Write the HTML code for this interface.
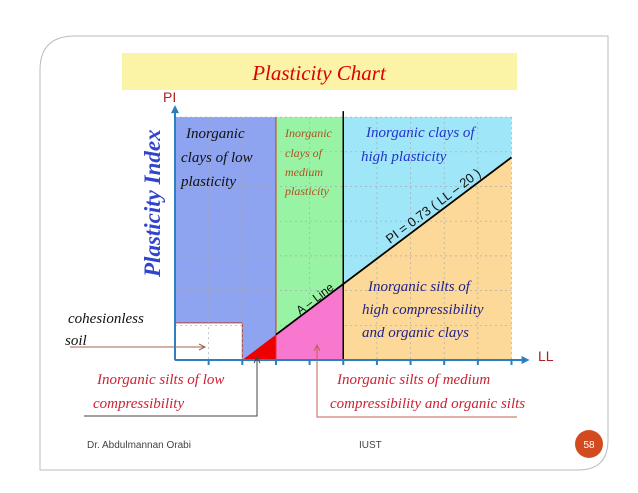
<!DOCTYPE html>
<html><head><meta charset="utf-8"><style>
body{margin:0;width:638px;height:493px;background:#fff;overflow:hidden}
svg{display:block}
.it{font-family:"Liberation Serif",serif;font-style:italic}
.sa{font-family:"Liberation Sans",sans-serif}
</style></head><body>
<svg width="638" height="493">
<path d="M75,36 H608 V440 Q608,470 578,470 H40 V70 Q40,36 75,36 Z" fill="none" stroke="#bbb" stroke-width="1"/>
<rect x="122" y="53" width="395" height="37" fill="#fbf3a6"/>
<text x="319" y="80" text-anchor="middle" class="it" font-size="21" fill="#d00">Plasticity Chart</text>
<g id="plot"></g>
<text x="163" y="102" class="sa" font-size="14" fill="#b02020">PI</text>
<text x="538" y="361" class="sa" font-size="14" fill="#b02020">LL</text>
<text transform="translate(160,277) rotate(-90)" class="it" font-size="23" fill="#3344cc" font-weight="bold">Plasticity Index</text>
<g class="it" font-size="15" fill="#111">
<text x="186" y="138">Inorganic</text><text x="181" y="162">clays of  low</text><text x="181" y="186">plasticity</text></g>
<g class="it" font-size="12" fill="#b05020">
<text x="285" y="137">Inorganic</text><text x="285" y="157">clays of</text><text x="285" y="176">medium</text><text x="285" y="195">plasticity</text></g>
<g class="it" font-size="15" fill="#2233cc">
<text x="366" y="137">Inorganic clays of</text><text x="361" y="161">high plasticity</text></g>
<g class="it" font-size="15" fill="#222288">
<text x="368" y="291">Inorganic silts of</text><text x="362" y="314">high compressibility</text><text x="362" y="337">and organic clays</text></g>
<g id="over"></g>
<text transform="translate(390,244) rotate(-37)" class="sa" font-size="13" fill="#111">PI = 0.73 ( LL – 20 )</text>
<text transform="translate(300,315) rotate(-37)" class="sa" font-size="12" fill="#111">A – Line</text>
<g class="it" font-size="15" fill="#111"><text x="68" y="323">cohesionless</text><text x="65" y="345">soil</text></g>
<path d="M70,347 H205" stroke="#a06050" fill="none"/><path d="M199,344 L205,347 L199,350" stroke="#a06050" fill="none"/>
<g class="it" font-size="15" fill="#cc2233"><text x="97" y="384">Inorganic silts of  low</text><text x="93" y="408">compressibility</text></g>
<path d="M84,416 H257 V358" stroke="#444" fill="none"/>
<path d="M254,363 L257,357 L260,363" stroke="#444" fill="none"/>
<g class="it" font-size="15" fill="#cc2233"><text x="337" y="384">Inorganic silts of  medium</text><text x="330" y="408">compressibility and organic silts</text></g>
<path d="M317,346 V417 H517" stroke="#c06050" fill="none"/>
<path d="M314,351 L317,345 L320,351" stroke="#c06050" fill="none"/>
<text x="87" y="448" class="sa" font-size="10" fill="#444">Dr. Abdulmannan Orabi</text>
<text x="359" y="448" class="sa" font-size="10" fill="#444">IUST</text>
<circle cx="589" cy="444" r="14" fill="#d24b1f"/>
<text x="589" y="448" text-anchor="middle" class="sa" font-size="10" fill="#fff">58</text>
</svg>
<script>
const llTicks=[0,10,20,30,40,50,60,70,80,90,100];
const piTicks=[0,10,20,30,40,50,60,70];
const zoneBounds=[30,50];
const aLineSlope=[0.73];
const aLineOffset=[20];
const piMax=[70];
const cohesionless=[20,10.7];
const X=v=>175+v*3.365, Y=v=>360-v*3.47;
const g=document.getElementById('plot'),NS='http://www.w3.org/2000/svg';
function el(t,a){const e=document.createElementNS(NS,t);for(const k in a)e.setAttribute(k,a[k]);g.appendChild(e);return e;}
const A=ll=>aLineSlope[0]*(ll-aLineOffset[0]);
const yTop=Y(piMax[0]);
let e;
e=el('rect',{x:X(0),y:yTop,width:X(zoneBounds[0])-X(0),height:Y(0)-yTop,fill:'#8ea4f0'});

e=el('rect',{x:X(zoneBounds[0]),y:yTop,width:X(zoneBounds[1])-X(zoneBounds[0]),height:Y(0)-yTop,fill:'#98f4a4'});

e=el('rect',{x:X(zoneBounds[1]),y:yTop,width:X(100)-X(zoneBounds[1]),height:Y(0)-yTop,fill:'#9ee6f8'});

e=el('polygon',{points:`${X(zoneBounds[1])},${Y(0)} ${X(zoneBounds[1])},${Y(A(zoneBounds[1]))} ${X(100)},${Y(A(100))} ${X(100)},${Y(0)}`,fill:'#fcd998'});

e=el('polygon',{points:`${X(zoneBounds[0])},${Y(0)} ${X(zoneBounds[0])},${Y(A(zoneBounds[0]))} ${X(zoneBounds[1])},${Y(A(zoneBounds[1]))} ${X(zoneBounds[1])},${Y(0)}`,fill:'#f878d0'});

e=el('polygon',{points:`${X(aLineOffset[0])},${Y(0)} ${X(zoneBounds[0])},${Y(A(zoneBounds[0]))} ${X(zoneBounds[0])},${Y(0)}`,fill:'#ee0000'});

e=el('rect',{x:X(0),y:Y(cohesionless[1]),width:X(cohesionless[0])-X(0),height:Y(0)-Y(cohesionless[1]),fill:'#fff',stroke:'#b04040','stroke-width':1});

piTicks.forEach(p=>{if(p===0)return;const l=el('line',{x1:X(0),x2:X(100),y1:Y(p),y2:Y(p),stroke:'#aaa','stroke-dasharray':'2,3','stroke-width':0.7});
});
llTicks.forEach(v=>{if(v===0)return;const l=el('line',{x1:X(v),x2:X(v),y1:yTop,y2:Y(0),stroke:'#aaa','stroke-dasharray':'2,3','stroke-width':0.7});
});
e=el('line',{x1:X(zoneBounds[0]),x2:X(zoneBounds[0]),y1:yTop,y2:Y(0),stroke:'#d03030','stroke-width':1});

e=el('line',{x1:X(zoneBounds[1]),x2:X(zoneBounds[1]),y1:yTop-6,y2:Y(0),stroke:'#000','stroke-width':1.5});

e=el('line',{x1:X(zoneBounds[0]),y1:Y(A(zoneBounds[0])),x2:X(100),y2:Y(A(100)),stroke:'#000','stroke-width':1.8});

e=el('line',{x1:X(0),y1:Y(0),x2:X(103),y2:Y(0),stroke:'#2a7fc0','stroke-width':2});

e=el('path',{d:`M${X(103)},${Y(0)-4} L${X(103)+8},${Y(0)} L${X(103)},${Y(0)+4}Z`,fill:'#2a7fc0'});

e=el('line',{x1:X(0),y1:Y(0),x2:X(0),y2:yTop-6,stroke:'#2a7fc0','stroke-width':2});

e=el('path',{d:`M${X(0)-4},${yTop-4} L${X(0)},${yTop-12} L${X(0)+4},${yTop-4}Z`,fill:'#2a7fc0'});

llTicks.forEach(v=>{if(v===0)return;const t=el('line',{x1:X(v),x2:X(v),y1:Y(0),y2:Y(0)+5,stroke:'#2a7fc0','stroke-width':2});
});
</script>
</body></html>
